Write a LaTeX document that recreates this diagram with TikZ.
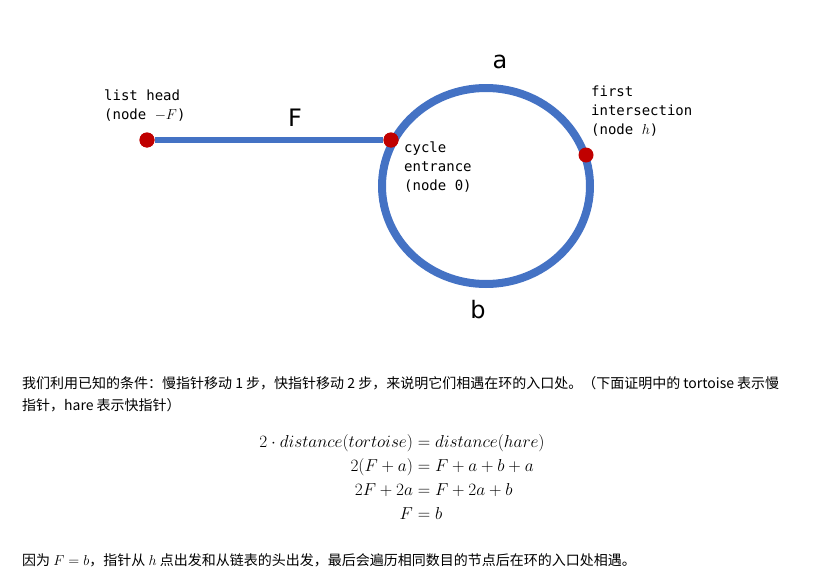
\documentclass[tikz,border=0pt]{standalone}
\usepackage{amsmath}
\usepackage{fontspec}
\setmonofont{DejaVu Sans Mono}
\setsansfont{DejaVu Sans}
\newfontfamily\cjk{Noto Sans CJK SC}
\usetikzlibrary{positioning}
\definecolor{ringblue}{HTML}{4472C4}
\definecolor{dotred}{HTML}{C00000}
\tikzset{
  pt/.style={circle,fill=dotred,inner sep=0pt,minimum size=15pt},
  lab/.style={font=\ttfamily\fontsize{14}{19}\selectfont,align=left,anchor=north west,inner sep=0pt},
  big/.style={font=\sffamily\fontsize{24}{26}\selectfont},
  txt/.style={font=\cjk\fontsize{14}{16}\selectfont,anchor=west,inner sep=0pt}
}
\begin{document}
\begin{tikzpicture}[x=1pt,y=-1pt]
\useasboundingbox (0,0) rectangle (839,581);
\draw[ringblue,line width=8pt] (486,186) ellipse (104 and 98);
\node[pt](head) at (147,140){};
\node[pt](entry) at (391,140){};
\node[pt](meet) at (586,155){};
\draw[ringblue,line width=6pt] (head) -- (entry);
\node[pt] at (head){};
\node[pt] at (entry){};

\node[lab] (headlab) at (104,90) {list head\\(node $-F$)};
\node[lab] (entrylab) at (404,142) {cycle\\entrance\\(node 0)};
\node[lab] (meetlab) at (591,86) {first\\intersection\\(node $h$)};
\node[big] (la) at (500,62) {a};
\node[big] (lF) at (295,118) {F};
\node[big] (lb) at (478,310) {b};

\node[txt] (p1) at (22,383) {我们利用已知的条件：慢指针移动 1 步，快指针移动 2 步，来说明它们相遇在环的入口处。（下面证明中的 tortoise 表示慢};
\node[txt] (p2) at (22,405) {指针，hare 表示快指针）};
\node[anchor=center,font=\fontsize{17.5}{20}\selectfont] (eq) at (402,479) {$\begin{aligned}
2\cdot distance(tortoise) &= distance(hare)\\[1pt]
2(F+a) &= F+a+b+a\\[1pt]
2F+2a &= F+2a+b\\[1pt]
F &= b
\end{aligned}$};
\node[txt] (p3) at (22,560) {因为 $F=b$，指针从 $h$ 点出发和从链表的头出发，最后会遍历相同数目的节点后在环的入口处相遇。};
\end{tikzpicture}
\end{document}
